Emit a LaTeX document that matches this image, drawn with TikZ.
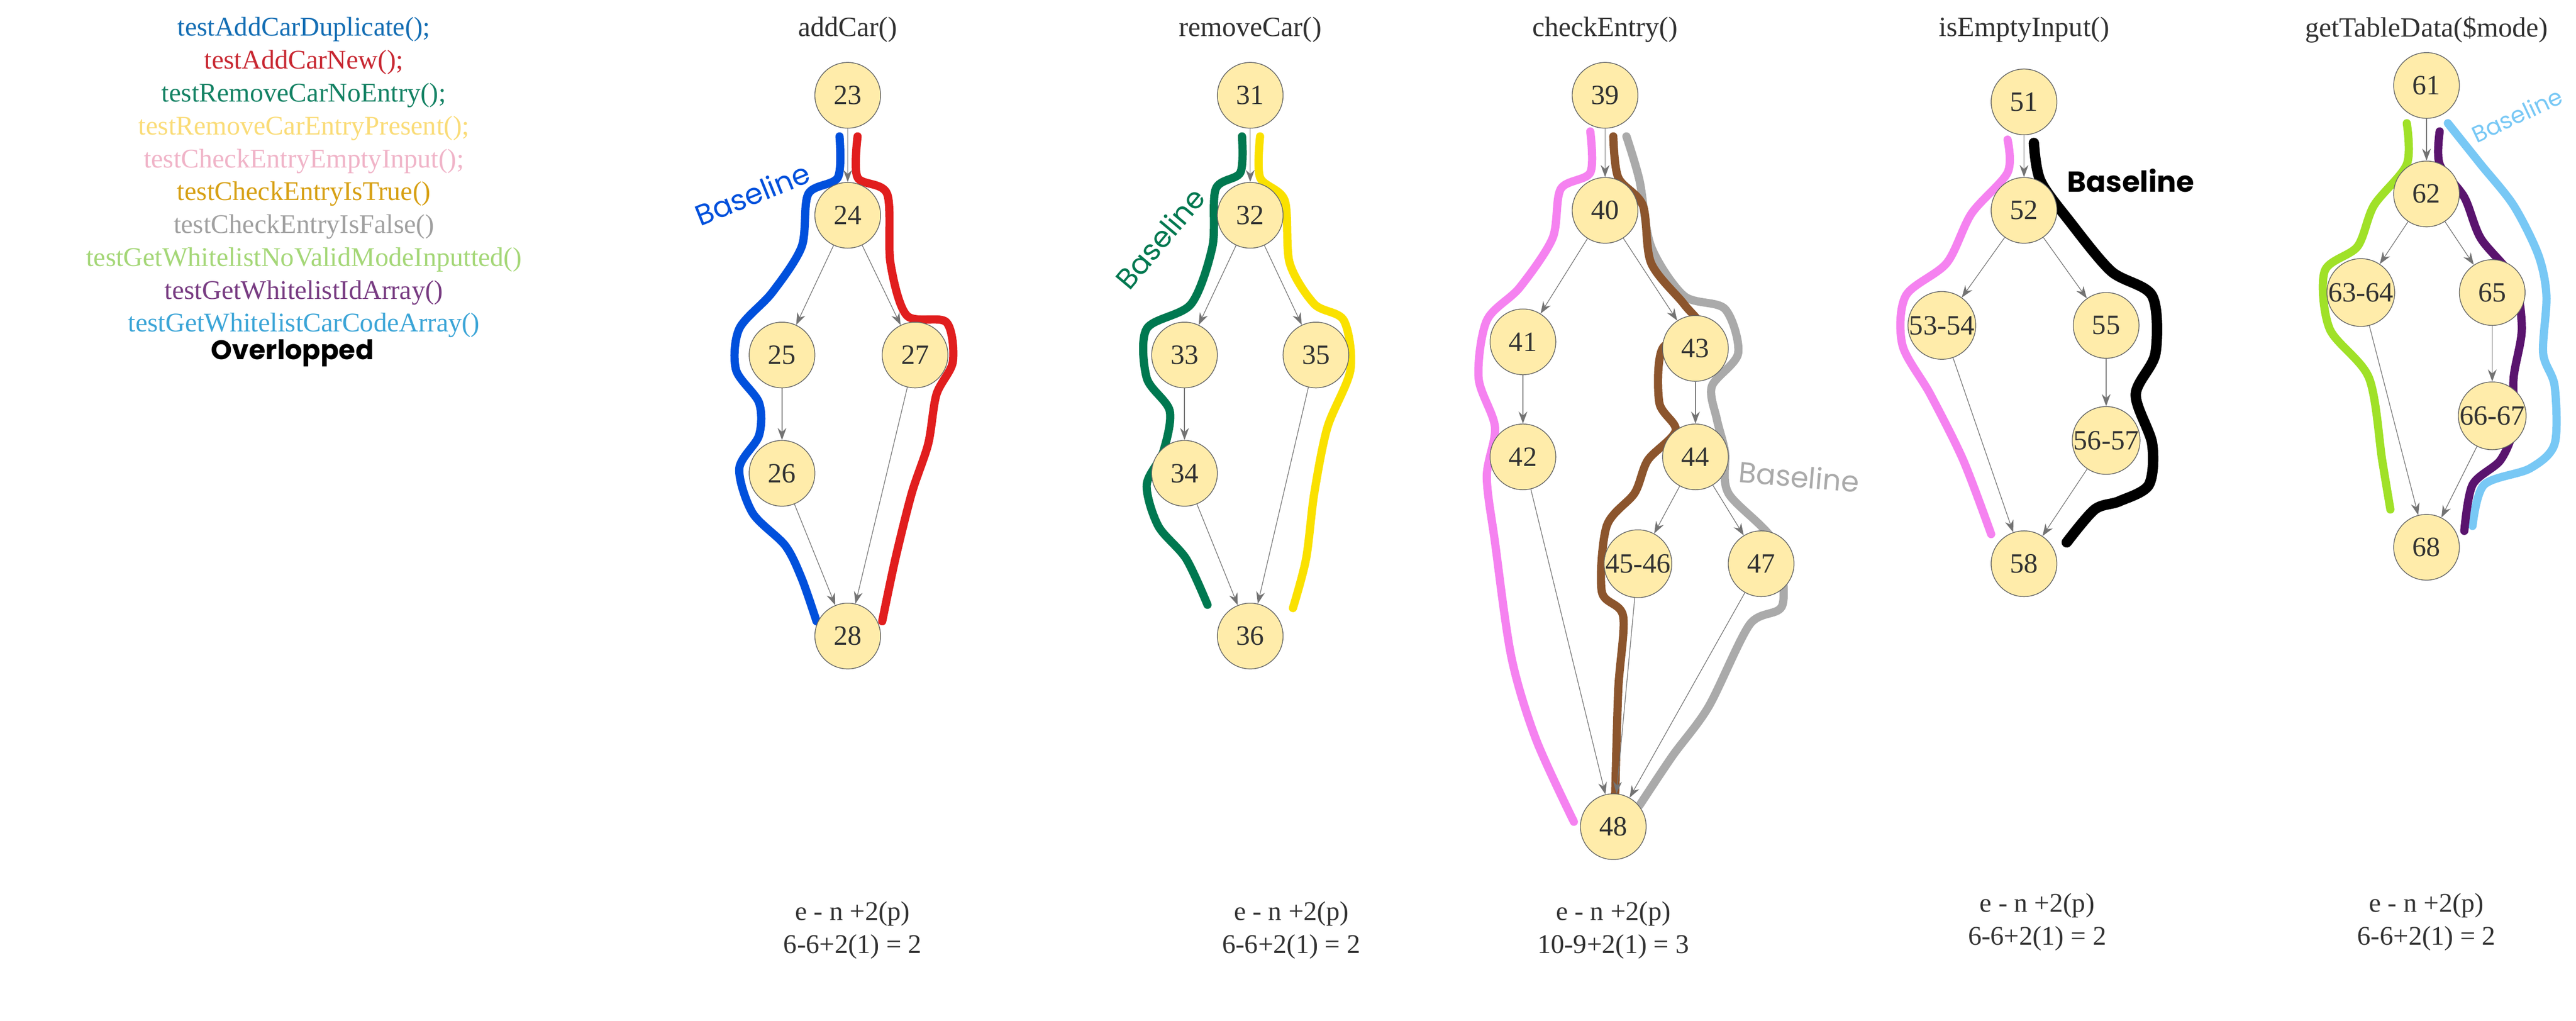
\documentclass[tikz,border=0pt]{standalone}
\usepackage{fontspec}
\setmainfont{Liberation Serif}
\newfontfamily\hand{Poppins}
\usetikzlibrary{arrows.meta}
\definecolor{nfill}{RGB}{255,236,170}
\definecolor{cA}{RGB}{20,110,180}\definecolor{cB}{RGB}{200,40,50}
\definecolor{cC}{RGB}{20,130,100}\definecolor{cD}{RGB}{250,220,120}
\definecolor{cE}{RGB}{240,180,200}\definecolor{cF}{RGB}{215,160,20}
\definecolor{cG}{RGB}{160,160,160}\definecolor{cH}{RGB}{165,215,120}
\definecolor{cI}{RGB}{120,60,130}\definecolor{cJ}{RGB}{60,165,215}
\definecolor{hBlue}{RGB}{0,80,220}\definecolor{hRed}{RGB}{225,30,30}
\definecolor{hGreen}{RGB}{0,120,80}\definecolor{hYellow}{RGB}{250,225,0}
\definecolor{hPink}{RGB}{245,130,240}\definecolor{hBrown}{RGB}{140,85,45}
\definecolor{hGray}{RGB}{170,170,170}\definecolor{hLime}{RGB}{160,225,40}
\definecolor{hPurple}{RGB}{90,20,110}\definecolor{hLBlue}{RGB}{120,200,245}
\definecolor{txt}{RGB}{50,50,50}
\tikzset{
 nd/.style={circle,draw=gray!80!black,fill=nfill,minimum size=12mm,inner sep=0pt,font=\fontsize{14.5}{16}\selectfont,text=txt},
 ed/.style={draw=gray!90!black,line width=0.35pt,-{Stealth[length=2.2mm,width=1.6mm]}},
 hl/.style={line width=1.5mm,line cap=round,line join=round},
 ttl/.style={font=\fontsize{14.5}{16}\selectfont,text=txt},
 leg/.style={font=\fontsize{14}{15}\selectfont,inner sep=0pt},
 frm/.style={font=\fontsize{14}{17}\selectfont,text=txt,align=center},
 hw/.style={font=\hand\fontsize{15}{17}\selectfont,inner sep=0pt}
}
\begin{document}
\begin{tikzpicture}[x=0.3mm,y=-0.3mm]
\useasboundingbox (0,0) rectangle (1568,621);
% legend
\node[leg,text=cA] (l1) at (185,18) {testAddCarDuplicate();};
\node[leg,text=cB] (l2) at (185,38) {testAddCarNew();};
\node[leg,text=cC] (l3) at (185,58) {testRemoveCarNoEntry();};
\node[leg,text=cD] (l4) at (185,78) {testRemoveCarEntryPresent();};
\node[leg,text=cE] (l5) at (185,98) {testCheckEntryEmptyInput();};
\node[leg,text=cF] (l6) at (185,118) {testCheckEntryIsTrue()};
\node[leg,text=cG] (l7) at (185,138) {testCheckEntryIsFalse()};
\node[leg,text=cH] (l8) at (185,158) {testGetWhitelistNoValidModeInputted()};
\node[leg,text=cI] (l9) at (185,178) {testGetWhitelistIdArray()};
\node[leg,text=cJ] (l10) at (185,198) {testGetWhitelistCarCodeArray()};
\node[hw,font=\hand\bfseries\fontsize{14}{16}\selectfont] (l11) at (178,215) {Overlopped};
% titles
\node[ttl] (t1) at (516,18) {addCar()};
\node[ttl] (t2) at (761,18) {removeCar()};
\node[ttl] (t3) at (977,18) {checkEntry()};
\node[ttl] (t4) at (1232,18) {isEmptyInput()};
\node[ttl] (t5) at (1477,18) {getTableData(\$mode)};
% formulas
\node[frm] (f1) at (519,566) {e - n +2(p)\\6-6+2(1) = 2};
\node[frm] (f2) at (786,566) {e - n +2(p)\\6-6+2(1) = 2};
\node[frm] (f3) at (982,566) {e - n +2(p)\\10-9+2(1) = 3};
\node[frm] (f4) at (1240,561) {e - n +2(p)\\6-6+2(1) = 2};
\node[frm] (f5) at (1477,561) {e - n +2(p)\\6-6+2(1) = 2};
% highlights
\draw[hl,hBlue] plot[smooth,tension=0.5] coordinates {(511,83)(510,108)(492,118)(488,150)(470,178)(450,200)(448,225)(462,245)(462,265)(450,285)(458,312)(478,332)(488,352)(497,378)};
\draw[hl,hRed] plot[smooth,tension=0.5] coordinates {(522,83)(522,108)(540,118)(542,160)(552,192)(576,196)(580,220)(570,240)(565,270)(555,300)(545,340)(537,378)};
\draw[hl,hGreen] plot[smooth,tension=0.5] coordinates {(756,83)(755,105)(740,115)(738,150)(725,185)(698,200)(698,230)(712,250)(708,275)(698,295)(705,320)(722,340)(735,368)};
\draw[hl,hYellow] plot[smooth,tension=0.5] coordinates {(767,83)(767,108)(782,122)(785,160)(800,185)(818,195)(822,225)(808,260)(800,300)(795,340)(787,370)};
\draw[hl,hPink] plot[smooth,tension=0.5] coordinates {(968,80)(968,105)(950,115)(945,145)(925,175)(905,195)(900,230)(910,260)(905,290)(910,330)(920,400)(935,450)(958,500)};
\draw[hl,hGray] plot[smooth,tension=0.5] coordinates {(990,83)(998,110)(1005,150)(1025,180)(1050,188)(1058,215)(1042,235)(1045,255)(1050,275)(1052,300)(1080,330)(1085,368)(1065,380)(1040,430)(1018,460)(998,490)};
\draw[hl,hBrown] plot[smooth,tension=0.5] coordinates {(982,83)(985,108)(1000,125)(1005,160)(1025,185)(1035,200)(1012,212)(1010,245)(1020,262)(1003,280)(995,300)(978,320)(975,360)(988,375)(985,420)(983,490)};
\draw[hl,hPink] plot[smooth,tension=0.5] coordinates {(1222,85)(1222,105)(1200,130)(1185,160)(1160,180)(1158,210)(1175,240)(1195,280)(1212,325)};
\draw[hl,black,line width=1.9mm] plot[smooth,tension=0.5] coordinates {(1238,87)(1242,110)(1260,135)(1285,165)(1310,180)(1312,215)(1300,240)(1310,270)(1308,295)(1290,305)(1275,310)(1258,330)};
\draw[hl,hLime] plot[smooth,tension=0.5] coordinates {(1465,75)(1465,100)(1445,125)(1435,150)(1415,165)(1418,200)(1442,230)(1450,280)(1455,310)};
\draw[hl,hLBlue] plot[smooth,tension=0.5] coordinates {(1490,75)(1510,100)(1530,125)(1545,155)(1550,180)(1548,215)(1555,235)(1555,270)(1540,285)(1512,295)(1505,320)};
\draw[hl,hPurple] plot[smooth,tension=0.5] coordinates {(1485,80)(1485,100)(1500,120)(1510,145)(1530,170)(1535,200)(1530,230)(1530,260)(1522,280)(1505,295)(1500,323)};
% handwritten labels
\node[hw,text=hBlue,rotate=22] (b1) at (458,118) {Baseline};
\node[hw,text=hGreen,rotate=50] (b2) at (706,145) {Baseline};
\node[hw,text=hGray,rotate=-5] (b3) at (1095,290) {Baseline};
\node[hw,text=black,font=\hand\bfseries\fontsize{15}{17}\selectfont] (b4) at (1297,110) {Baseline};
\node[hw,text=hLBlue,rotate=25,font=\hand\fontsize{12}{14}\selectfont] (b5) at (1532,70) {Baseline};
% addCar
\node[nd] (n23) at (516,58) {23};
\node[nd] (n24) at (516,131) {24};
\node[nd] (n25) at (476,216) {25};
\node[nd] (n27) at (557,216) {27};
\node[nd] (n26) at (476,288) {26};
\node[nd] (n28) at (516,387) {28};
\draw[ed] (n23)--(n24); \draw[ed] (n24)--(n25); \draw[ed] (n24)--(n27);
\draw[ed] (n25)--(n26); \draw[ed] (n26)--(n28); \draw[ed] (n27)--(n28);
% removeCar
\node[nd] (n31) at (761,58) {31};
\node[nd] (n32) at (761,131) {32};
\node[nd] (n33) at (721,216) {33};
\node[nd] (n35) at (801,216) {35};
\node[nd] (n34) at (721,288) {34};
\node[nd] (n36) at (761,387) {36};
\draw[ed] (n31)--(n32); \draw[ed] (n32)--(n33); \draw[ed] (n32)--(n35);
\draw[ed] (n33)--(n34); \draw[ed] (n34)--(n36); \draw[ed] (n35)--(n36);
% checkEntry
\node[nd] (n39) at (977,58) {39};
\node[nd] (n40) at (977,128) {40};
\node[nd] (n41) at (927,208) {41};
\node[nd] (n43) at (1032,212) {43};
\node[nd] (n42) at (927,278) {42};
\node[nd] (n44) at (1032,278) {44};
\node[nd] (n45) at (997,343) {45-46};
\node[nd] (n47) at (1072,343) {47};
\node[nd] (n48) at (982,503) {48};
\draw[ed] (n39)--(n40); \draw[ed] (n40)--(n41); \draw[ed] (n40)--(n43);
\draw[ed] (n41)--(n42); \draw[ed] (n43)--(n44); \draw[ed] (n44)--(n45);
\draw[ed] (n44)--(n47); \draw[ed] (n42)--(n48); \draw[ed] (n45)--(n48); \draw[ed] (n47)--(n48);
% isEmptyInput
\node[nd] (n51) at (1232,62) {51};
\node[nd] (n52) at (1232,128) {52};
\node[nd] (n53) at (1182,198) {53-54};
\node[nd] (n55) at (1282,198) {55};
\node[nd] (n56) at (1282,268) {56-57};
\node[nd] (n58) at (1232,343) {58};
\draw[ed] (n51)--(n52); \draw[ed] (n52)--(n53); \draw[ed] (n52)--(n55);
\draw[ed] (n55)--(n56); \draw[ed] (n53)--(n58); \draw[ed] (n56)--(n58);
% getTableData
\node[nd] (n61) at (1477,52) {61};
\node[nd] (n62) at (1477,118) {62};
\node[nd] (n63) at (1437,178) {63-64};
\node[nd] (n65) at (1517,178) {65};
\node[nd] (n66) at (1517,253) {66-67};
\node[nd] (n68) at (1477,333) {68};
\draw[ed] (n61)--(n62); \draw[ed] (n62)--(n63); \draw[ed] (n62)--(n65);
\draw[ed] (n65)--(n66); \draw[ed] (n63)--(n68); \draw[ed] (n66)--(n68);
\end{tikzpicture}
\end{document}
